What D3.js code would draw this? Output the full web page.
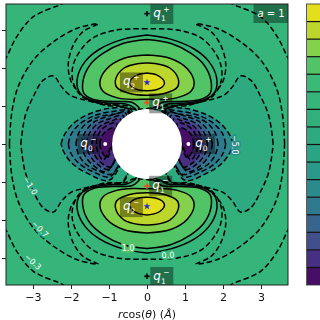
<!DOCTYPE html>
<html>
<head>
<meta charset="utf-8">
<script src="https://cdn.jsdelivr.net/npm/d3@7"></script>
<style>
	html, body { margin: 0; padding: 0; background: #fff; overflow: hidden; }
	text { font-family: "DejaVu Sans", sans-serif; }
	#chart { filter: blur(0.35px); }
</style>
</head>
<body>
<svg id="chart" width="320" height="320"></svg>
<script>
// all contour points are in angstrom, upper left quadrant only
const xTicks = [-3, -2, -1, 0, 1, 2, 3]
const yTicks = [-3, -2, -1, 0, 1, 2, 3]
const coreRadius = [0.92]

// colorbar bands, top to bottom
const bandIds = d3.range(16)
const bandColors = ["#e4df1c", "#bcd62c", "#84d24b", "#52c468", "#3aba76", "#35b57a", "#31b07c", "#2eaa80",
	"#2ba385", "#2a9989", "#2a8a8c", "#2f7a8e", "#38658e", "#41508c", "#472f82", "#450f66"]

// upper lobe, positive levels, from the x=0 line to the left
const lobe1 = [[0, 1.87], [-0.25, 1.82], [-0.42, 1.7], [-0.46, 1.6], [-0.4, 1.5], [-0.22, 1.42], [0, 1.4]]
const lobe2 = [[0, 2.13], [-0.2, 2.12], [-0.6, 2.0], [-0.82, 1.72], [-0.8, 1.5], [-0.5, 1.34], [0, 1.28]]
const lobe3 = [[0, 2.34], [-0.62, 2.25], [-1.06, 1.98], [-1.24, 1.62], [-1.15, 1.38], [-0.8, 1.22], [-0.36, 1.17], [0, 1.18]]
const lobe4 = [[0, 2.75], [-0.62, 2.65], [-1.15, 2.39], [-1.5, 2.08], [-1.68, 1.68], [-1.66, 1.33], [-1.41, 1.17], [-0.89, 1.12], [-0.4, 1.1], [-0.23, 0.98], [-0.14, 0.85]]
const lobe5 = [[0, 2.87], [-0.62, 2.76], [-1.24, 2.5], [-1.62, 2.18], [-1.83, 1.75], [-1.8, 1.4], [-1.6, 1.2], [-1.15, 1.09], [-0.54, 1.05], [-0.32, 0.94], [-0.23, 0.81]]
const lobe6 = [[0, 3.03], [-0.8, 3.0], [-1.41, 2.8], [-1.76, 2.45], [-1.95, 2.05], [-1.95, 1.65], [-1.75, 1.28], [-1.5, 1.13], [-1.0, 1.04], [-0.5, 1.0], [-0.38, 0.92]]

// outer negative levels
const cornerArc = [[-2.15, 3.75], [-2.25, 3.68], [-2.99, 3.35], [-3.43, 2.82], [-3.69, 2.3], [-3.75, 2.2]]
const arm07 = [[-3.62, 0], [-3.56, 0.81], [-3.39, 1.51], [-2.99, 2.21], [-2.46, 2.69], [-1.85, 3.04], [-1.28, 3.16], [-1.68, 2.96], [-1.94, 2.6], [-2.07, 2.12], [-2.01, 1.68], [-1.81, 1.38], [-1.59, 1.2], [-1.1, 1.02], [-0.6, 0.97], [-0.43, 0.85]]
const arm10 = [[-3.32, 0], [-3.21, 0.72], [-2.99, 1.25], [-2.73, 1.68], [-2.46, 1.79], [-2.25, 1.51], [-2.03, 1.29], [-1.72, 1.18], [-1.24, 1.07], [-0.62, 0.97], [-0.46, 0.8]]

// side lobe, negative levels, from the y=0 line up to the core
const well1 = [[-2.26, 0], [-2.2, 0.19], [-1.98, 0.5], [-1.59, 0.76], [-0.97, 0.94], [-0.4, 0.88]]
const well2 = [[-2.07, 0], [-2.0, 0.25], [-1.78, 0.52], [-1.4, 0.74], [-0.95, 0.85], [-0.45, 0.85]]
const well3 = [[-1.87, 0], [-1.8, 0.28], [-1.6, 0.54], [-1.25, 0.72], [-0.9, 0.78], [-0.5, 0.83]]
const well4 = [[-1.72, 0], [-1.65, 0.27], [-1.42, 0.56], [-1.05, 0.72], [-0.55, 0.8]]
const well5 = [[-1.59, 0], [-1.53, 0.25], [-1.32, 0.52], [-1.0, 0.66], [-0.62, 0.74]]
const well6 = [[-1.45, 0], [-1.4, 0.25], [-1.22, 0.48], [-0.95, 0.6], [-0.7, 0.66]]
const well7 = [[-1.33, 0], [-1.3, 0.2], [-1.15, 0.42], [-0.8, 0.56]]
const well8 = [[-1.24, 0], [-1.2, 0.18], [-1.05, 0.36], [-0.85, 0.42]]

const closedLobes = [lobe1, lobe2, lobe3]
const closedBands = [0, 1, 2]
const openLobes = [lobe4, lobe5, lobe6]
const openBands = [3, 4, 5]
const wells = [well1, well2, well3, well4, well5, well6, well7, well8]
const wellBands = [10, 11, 11, 12, 13, 14, 14, 15]

// markers and their boxes
const markerNames = ["q1", "q2", "q1", "q0", "q0", "q1", "q2", "q1"]
const markerSigns = ["+", "+", "+", "−", "+", "−", "−", "−"]
const markerX = [0, 0, 0, -1.1, 1.09, 0, 0, 0]
const markerY = [3.43, 1.62, 1.09, 0, 0, -1.11, -1.64, -3.48]
const markerFill = ["#111", "#2a2ad0", "#e8501e", "#fff", "#fff", "#e8501e", "#2a2ad0", "#111"]
const boxX = [0.39, -0.41, 0.36, -1.53, 1.49, 0.36, -0.41, 0.39]
const boxY = [3.42, 1.62, 1.07, 0, 0, -1.1, -1.66, -3.5]

// inline contour labels
const clabelText = ["−1.0", "−0.7", "−0.3", "1.0", "0.0", "−5.0"]
const clabelX = [-3.07, -2.81, -3.0, -0.5, 0.55, 2.31]
const clabelY = [-1.1, -2.24, -3.1, -2.74, -2.92, -0.02]
const clabelAngle = [58, 45, 42, 0, -5, 90]
const clabelHalo = ["#2eaa80", "#31b07c", "#35b57a", "#52c468", "#3aba76", "#2a8a8c"]

const svg = d3.select("#chart")
const x = d3.scaleLinear().domain([-3.71, 3.71]).range([6, 288])
const y = d3.scaleLinear().domain([-3.71, 3.684]).range([285, 4])
const bandColor = d3.scaleOrdinal(bandIds, bandColors)
const line = d3.line().x(d => x(d[0])).y(d => y(d[1])).curve(d3.curveCatmullRom.alpha(0.5))

const flipX = pts => pts.map(p => [-p[0], p[1]])
const flipY = pts => pts.map(p => [p[0], -p[1]])
const stroke = (g, pts, dashed) => g.append("path")
	.attr("d", line(pts))
	.attr("fill", "none")
	.attr("stroke", "#000")
	.attr("stroke-width", 1.5)
	.attr("stroke-dasharray", dashed ? "5.5,2.8" : null)
const fill = (g, pts, band) => g.append("path")
	.attr("d", line(pts) + "Z")
	.attr("fill", bandColor(band))

svg.append("clipPath").attr("id", "plot").append("rect")
	.attr("x", x(-3.71)).attr("y", y(3.684))
	.attr("width", x(3.71) - x(-3.71)).attr("height", y(-3.71) - y(3.684))

const plot = svg.append("g").attr("clip-path", "url(#plot)")
plot.append("rect")
	.attr("x", x(-3.71)).attr("y", y(3.684))
	.attr("width", x(3.71) - x(-3.71)).attr("height", y(-3.71) - y(3.684))
	.attr("fill", bandColor(5))

// upper and lower positive lobes, outer level first
for (const flip of [p => p, flipY]) {
	for (let i = openLobes.length - 1; i >= 0; i--) {
		fill(plot, flip(openLobes[i]).concat(flipX(flip(openLobes[i])).reverse()), openBands[i])
	}
	for (let i = closedLobes.length - 1; i >= 0; i--) {
		fill(plot, flip(closedLobes[i]).concat(flipX(flip(closedLobes[i])).reverse().slice(1, -1)), closedBands[i])
	}
}

// left and right negative regions
for (const flip of [p => p, flipX]) {
	const side = half => flip(half).concat(flipY(flip(half)).reverse().slice(1))
	fill(plot, side(arm07), 6)
	fill(plot, side(arm10), 7)
	wells.forEach((w, i) => fill(plot, side(w), wellBands[i]))
}

// contour lines
for (const flip of [p => p, flipY]) {
	closedLobes.forEach(half => stroke(plot, flip(half).concat(flipX(flip(half)).reverse().slice(1)), false))
	stroke(plot, flip(lobe4).concat(flipX(flip(lobe4)).reverse().slice(1)), false)
	stroke(plot, flip(lobe5).concat(flipX(flip(lobe5)).reverse().slice(1)), false)
	stroke(plot, flip(lobe6).concat(flipX(flip(lobe6)).reverse().slice(1)), true)
}
for (const flip of [p => p, flipX]) {
	const side = half => flip(half).concat(flipY(flip(half)).reverse().slice(1))
	stroke(plot, side(arm07), true)
	stroke(plot, side(arm10), true)
	wells.forEach(w => stroke(plot, side(w), true))
}
for (const fx of [1, -1]) {
	for (const fy of [1, -1]) {
		stroke(plot, cornerArc.map(p => [p[0] * fx, p[1] * fy]), true)
	}
}

// the excluded core
plot.append("circle")
	.attr("cx", x(0)).attr("cy", y(0))
	.attr("r", x(coreRadius[0]) - x(0))
	.attr("fill", "#fff")

// contour labels
clabelText.forEach((t, i) => {
	plot.append("text")
		.attr("transform", `translate(${x(clabelX[i])},${y(clabelY[i])}) rotate(${clabelAngle[i]})`)
		.attr("text-anchor", "middle")
		.attr("dy", "0.35em")
		.attr("font-size", 8)
		.attr("fill", "#fff")
		.attr("stroke", clabelHalo[i])
		.attr("stroke-width", 3)
		.attr("paint-order", "stroke")
		.text(t)
})

// boxes and labels for the charges
markerNames.forEach((name, i) => {
	const cx = x(boxX[i])
	const cy = y(boxY[i])
	plot.append("rect")
		.attr("x", cx - 11.5).attr("y", cy - 10)
		.attr("width", 23).attr("height", 20)
		.attr("fill", "#000").attr("fill-opacity", 0.38)
	plot.append("text")
		.attr("x", cx - 8.5).attr("y", cy + 3)
		.attr("font-size", 12).attr("font-style", "italic")
		.attr("fill", "#fff")
		.text("q")
	plot.append("text")
		.attr("x", cx - 0.8).attr("y", cy + 7)
		.attr("font-size", 7.5)
		.attr("fill", "#fff")
		.text(name[1])
	plot.append("text")
		.attr("x", cx + 1.5).attr("y", cy - 2.5)
		.attr("font-size", 7.5)
		.attr("fill", "#fff")
		.text(markerSigns[i])

	const marker = markerFill[i] === "#fff" ? d3.symbolCircle : (markerFill[i] === "#2a2ad0" ? d3.symbolStar : d3.symbolCross)
	plot.append("path")
		.attr("d", d3.symbol(marker, markerFill[i] === "#fff" ? 12 : 16)())
		.attr("transform", `translate(${x(markerX[i])},${y(markerY[i])})`)
		.attr("fill", markerFill[i])
})

// a = 1 box
plot.append("rect")
	.attr("x", x(3.71) - 34.5).attr("y", y(3.684))
	.attr("width", 34.5).attr("height", 19)
	.attr("fill", "#000").attr("fill-opacity", 0.38)
const aText = plot.append("text")
	.attr("x", x(3.71) - 17).attr("y", y(3.684) + 13)
	.attr("text-anchor", "middle")
	.attr("font-size", 10)
	.attr("fill", "#fff")
aText.append("tspan").attr("font-style", "italic").text("a")
aText.append("tspan").text(" = 1")

// frame and axes
svg.append("rect")
	.attr("x", x(-3.71)).attr("y", y(3.684))
	.attr("width", x(3.71) - x(-3.71)).attr("height", y(-3.71) - y(3.684))
	.attr("fill", "none").attr("stroke", "#222").attr("stroke-width", 1)

const xAxis = svg.append("g")
	.attr("transform", `translate(0,${y(-3.71)})`)
	.call(d3.axisBottom(x).tickValues(xTicks).tickSize(4).tickPadding(4))
xAxis.select(".domain").remove()
xAxis.selectAll("text").attr("font-size", 11).attr("fill", "#111").attr("font-family", "DejaVu Sans")
xAxis.selectAll("line").attr("stroke", "#222")

const yAxis = svg.append("g")
	.attr("transform", `translate(${x(-3.71)},0)`)
	.call(d3.axisLeft(y).tickValues(yTicks).tickSize(4).tickFormat(""))
yAxis.select(".domain").remove()
yAxis.selectAll("line").attr("stroke", "#222")

const xLabel = svg.append("text")
	.attr("x", 147).attr("y", 318)
	.attr("text-anchor", "middle")
	.attr("font-size", 11)
	.attr("fill", "#111")
xLabel.append("tspan").attr("font-style", "italic").text("r")
xLabel.append("tspan").text("cos(")
xLabel.append("tspan").attr("font-style", "italic").text("θ")
xLabel.append("tspan").text(") (")
xLabel.append("tspan").attr("font-style", "italic").text("Å")
xLabel.append("tspan").text(")")

// colorbar, runs off the right edge like the original
const barY = d3.scaleBand().domain(bandIds).range([4, 285])
svg.selectAll(".band").data(bandIds).enter().append("rect")
	.attr("class", "band")
	.attr("x", 307).attr("y", d => barY(d))
	.attr("width", 14).attr("height", barY.bandwidth())
	.attr("fill", d => bandColor(d))
svg.selectAll(".bandLine").data(bandIds.slice(1)).enter().append("line")
	.attr("class", "bandLine")
	.attr("x1", 307).attr("x2", 320)
	.attr("y1", d => barY(d)).attr("y2", d => barY(d))
	.attr("stroke", "#111").attr("stroke-width", 1.2)
svg.append("rect")
	.attr("x", 306.5).attr("y", 4)
	.attr("width", 16).attr("height", 281)
	.attr("fill", "none").attr("stroke", "#333").attr("stroke-width", 0.8)
</script>
</body>
</html>
